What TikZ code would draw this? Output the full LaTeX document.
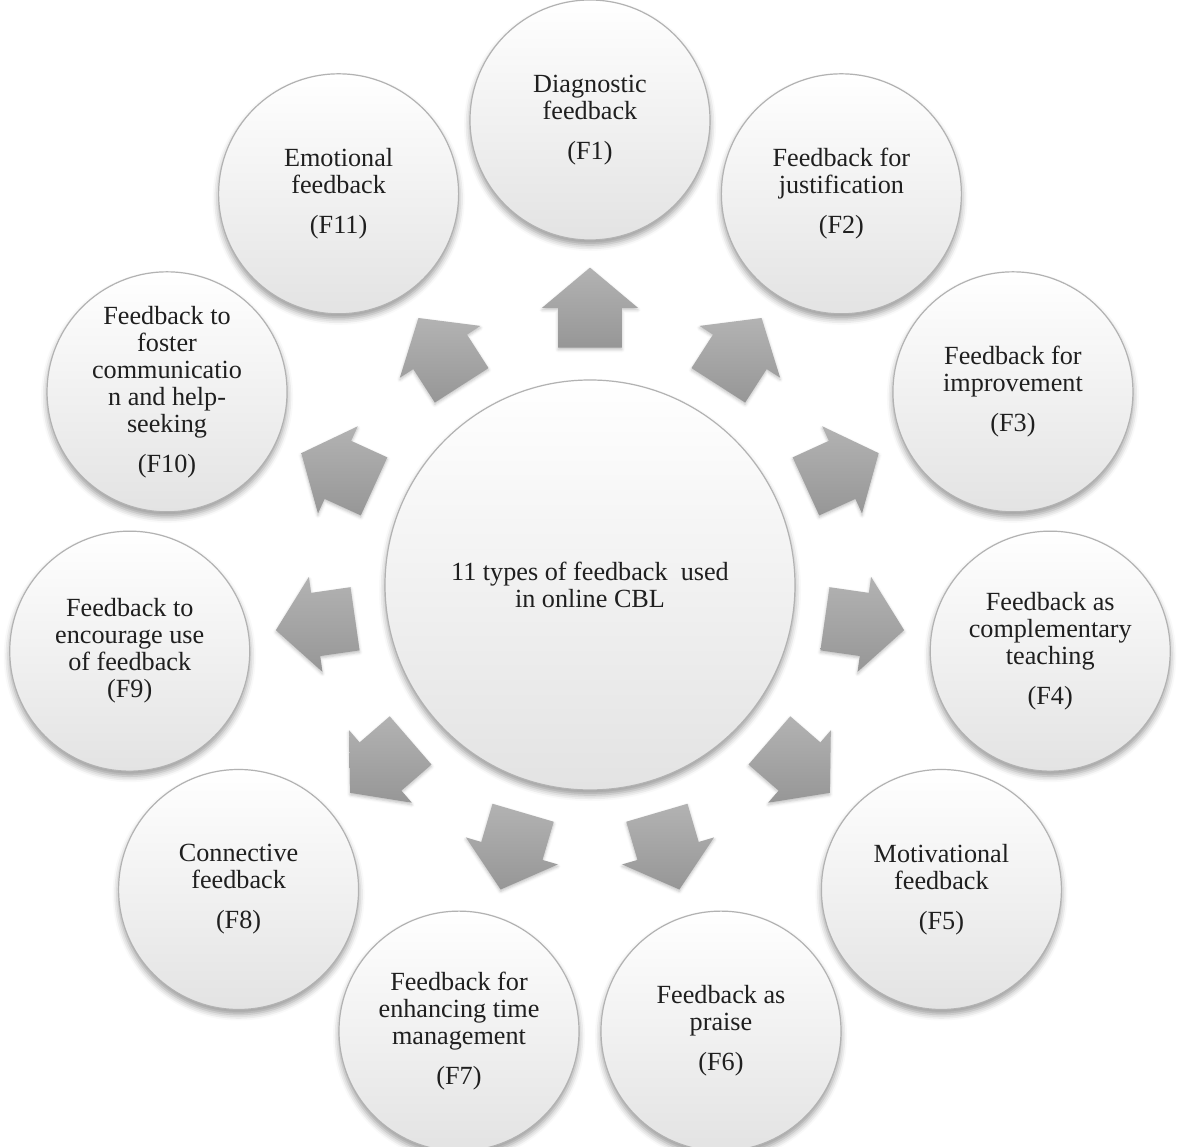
\documentclass[tikz,border=0pt]{standalone}
\usepackage{fontspec}
\setmainfont{Liberation Serif}
\usetikzlibrary{shapes.arrows,shadows.blur}

\tikzset{
  bubble/.style={circle, draw=black!30, line width=0.6pt, top color=white, bottom color=black!11,
    text=black!88, align=center, inner sep=0pt, minimum size=120pt,
    font=\fontsize{13.1}{13.5}\selectfont,
    blur shadow={shadow xshift=0pt, shadow yshift=-2.5pt, shadow opacity=40, shadow blur radius=3pt}},
  hub/.style={bubble, minimum size=205pt},
  block/.style={single arrow, draw=none, minimum height=40pt, minimum width=47.5pt,
    single arrow head extend=8pt, single arrow tip angle=100, inner xsep=0pt, inner ysep=15.75pt,
    top color=black!30, bottom color=black!41,
    blur shadow={shadow xshift=0pt, shadow yshift=-1pt, shadow opacity=25, shadow blur radius=1.5pt}}
}

\begin{document}
\begin{tikzpicture}[x=0.5pt,y=0.5pt]
  \useasboundingbox (0,0) rectangle (1180,1147);
  % centre
  \node[hub] (types) at (590,562) {11 types of feedback~ used\\in online CBL};
  % the eleven types around it
  \begin{scope}[shift={(590,562)}]
    \foreach \i/\txt in {
      1/{Diagnostic\\feedback\\[6.5pt](F1)},
      2/{Feedback for\\justification\\[6.5pt](F2)},
      3/{Feedback for\\improvement\\[6.5pt](F3)},
      4/{Feedback as\\complementary\\teaching\\[6.5pt](F4)},
      5/{Motivational\\feedback\\[6.5pt](F5)},
      6/{Feedback as\\praise\\[6.5pt](F6)},
      7/{Feedback for\\enhancing time\\management\\[6.5pt](F7)},
      8/{Connective\\feedback\\[6.5pt](F8)},
      9/{Feedback to\\encourage use\\of feedback\\(F9)},
      10/{Feedback to\\foster\\communicatio\\n and help-\\seeking\\[6.5pt](F10)},
      11/{Emotional\\feedback\\[6.5pt](F11)}}
    {
      \pgfmathsetmacro\a{90-(\i-1)*360/11}
      \node[block, rotate=\a] (a\i) at (\a:264) {};
      \node[bubble] (f\i) at (\a:465) {\txt};
    }
  \end{scope}
\end{tikzpicture}
\end{document}
